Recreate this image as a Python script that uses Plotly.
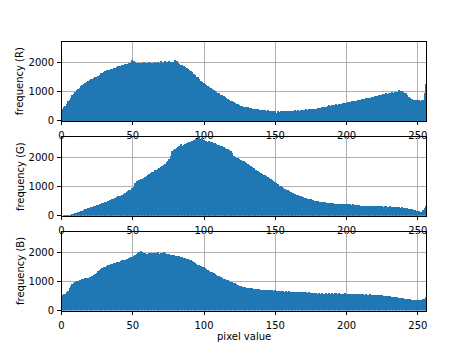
import plotly.graph_objects as go

bins = list(range(256))

red = [
    420, 470, 530, 600, 680, 720, 800, 880, 930, 990, 1060, 1100, 1150, 1190, 1230, 1270,
    1300, 1340, 1380, 1410, 1440, 1460, 1480, 1510, 1530, 1550, 1600, 1640, 1670, 1700, 1720, 1740,
    1760, 1770, 1790, 1800, 1820, 1840, 1850, 1880, 1890, 1910, 1920, 1940, 1950, 1970, 1980, 2000,
    2010, 2100, 2050, 2040, 2010, 2000, 1990, 2010, 2000, 2020, 1990, 2010, 2000, 2030, 2000, 2010,
    1990, 2020, 2000, 2030, 2010, 2050, 2000, 2020, 2060, 2040, 2030, 2070, 2020, 2040, 2030, 2090,
    2060, 2000, 1980, 1940, 1920, 1880, 1850, 1810, 1780, 1740, 1720, 1680, 1620, 1580, 1530, 1500,
    1440, 1390, 1350, 1300, 1270, 1230, 1200, 1180, 1150, 1120, 1080, 1040, 1000, 970, 950, 910,
    880, 850, 820, 790, 760, 720, 700, 680, 650, 620, 600, 580, 550, 530, 520, 500,
    490, 480, 470, 460, 440, 430, 420, 410, 400, 400, 390, 380, 390, 370, 380, 360,
    370, 360, 350, 360, 340, 330, 280, 330, 320, 340, 330, 330, 350, 340, 350, 360,
    340, 360, 350, 370, 360, 380, 350, 370, 390, 370, 380, 400, 380, 400, 410, 390,
    410, 430, 420, 440, 450, 460, 470, 490, 480, 500, 520, 540, 530, 550, 560, 540,
    570, 560, 580, 590, 580, 610, 620, 630, 650, 640, 660, 680, 690, 700, 690, 720,
    730, 740, 750, 760, 770, 780, 790, 800, 810, 830, 840, 860, 850, 870, 880, 900,
    910, 920, 940, 950, 930, 960, 970, 990, 980, 1000, 990, 1010, 1060, 1020, 1050, 1000,
    980, 950, 900, 830, 800, 760, 740, 720, 730, 710, 720, 700, 740, 720, 950, 1280,
]

green = [
    0, 5, 10, 20, 25, 35, 50, 65, 80, 100, 120, 135, 150, 170, 190, 210,
    230, 250, 265, 290, 310, 320, 340, 350, 370, 380, 400, 420, 440, 460, 480, 500,
    520, 540, 560, 580, 600, 630, 650, 680, 700, 690, 720, 760, 790, 820, 850, 880,
    910, 950, 990, 1150, 1190, 1210, 1240, 1270, 1290, 1320, 1350, 1380, 1410, 1440, 1470, 1500,
    1530, 1570, 1600, 1620, 1650, 1690, 1720, 1760, 1800, 1850, 1900, 1980, 2050, 2250, 2280, 2300,
    2350, 2380, 2400, 2470, 2420, 2450, 2480, 2500, 2520, 2560, 2540, 2580, 2600, 2620, 2640, 2660,
    2720, 2640, 2680, 2600, 2580, 2590, 2560, 2570, 2540, 2560, 2520, 2500, 2490, 2450, 2460, 2420,
    2410, 2380, 2350, 2320, 2300, 2280, 2250, 2180, 2050, 2030, 2000, 1990, 1960, 1940, 1910, 1880,
    1850, 1820, 1790, 1760, 1720, 1680, 1640, 1600, 1580, 1550, 1510, 1480, 1450, 1420, 1400, 1370,
    1330, 1300, 1270, 1240, 1200, 1170, 1130, 1090, 1050, 1020, 990, 950, 920, 900, 880, 850,
    830, 810, 790, 770, 740, 720, 700, 680, 660, 650, 630, 610, 600, 590, 570, 560,
    550, 530, 520, 510, 500, 490, 480, 480, 470, 460, 460, 450, 440, 440, 440, 430,
    430, 420, 430, 420, 420, 410, 420, 410, 420, 400, 410, 390, 400, 390, 380, 370,
    370, 360, 360, 350, 360, 350, 340, 350, 340, 340, 330, 340, 330, 340, 320, 330,
    330, 320, 330, 330, 310, 320, 330, 310, 320, 300, 310, 300, 310, 290, 300, 290,
    280, 270, 260, 250, 240, 230, 220, 200, 190, 170, 160, 150, 140, 220, 280, 330,
]

blue = [
    560, 570, 600, 640, 700, 780, 850, 920, 960, 990, 1020, 1040, 1060, 1080, 1100, 1120,
    1130, 1140, 1150, 1170, 1180, 1200, 1230, 1270, 1320, 1370, 1410, 1440, 1470, 1500, 1520, 1550,
    1570, 1590, 1610, 1630, 1650, 1660, 1680, 1700, 1700, 1720, 1740, 1750, 1770, 1780, 1800, 1820,
    1850, 1870, 1890, 1920, 1960, 2000, 2030, 2080, 2030, 2000, 1990, 1980, 1970, 2000, 1990, 2000,
    2010, 1990, 2000, 2020, 1980, 2010, 2000, 2030, 1990, 1970, 1960, 1950, 1940, 1930, 1920, 1910,
    1900, 1900, 1880, 1870, 1850, 1830, 1810, 1800, 1780, 1760, 1740, 1710, 1690, 1660, 1630, 1600,
    1580, 1550, 1530, 1500, 1480, 1450, 1420, 1390, 1360, 1330, 1300, 1280, 1250, 1220, 1200, 1180,
    1150, 1120, 1100, 1080, 1060, 1040, 1010, 990, 980, 950, 920, 900, 870, 860, 840, 830,
    820, 810, 800, 790, 780, 780, 770, 760, 760, 750, 750, 740, 740, 730, 740, 730,
    720, 730, 710, 720, 700, 710, 690, 700, 690, 680, 690, 680, 670, 680, 670, 680,
    670, 660, 670, 650, 660, 650, 660, 640, 650, 640, 640, 650, 630, 640, 620, 630,
    620, 610, 620, 600, 610, 600, 610, 590, 600, 610, 600, 620, 600, 610, 600, 620,
    610, 600, 610, 600, 590, 600, 610, 590, 600, 590, 580, 590, 600, 580, 570, 590,
    580, 570, 580, 570, 560, 570, 560, 550, 570, 560, 550, 560, 540, 550, 560, 540,
    540, 530, 520, 530, 510, 520, 510, 500, 490, 500, 480, 470, 460, 450, 440, 440,
    430, 420, 410, 400, 400, 390, 380, 380, 370, 380, 380, 370, 390, 400, 420, 490,
]

channels = [("R", red), ("G", green), ("B", blue)]
x_ticks = [0, 50, 100, 150, 200, 250]
y_ticks = [0, 1000, 2000]

W, H = 474, 355
x_dom = [59 / W, 427 / W]
y_doms = [[0.6535, 0.88], [0.3817, 0.6082], [0.11, 0.3365]]

fig = go.Figure()
font = dict(family="DejaVu Sans", size=10, color="black")

for i, (name, vals) in enumerate(channels):
    k = "" if i == 0 else str(i + 1)
    fig.add_trace(go.Bar(
        x=[b + 0.5 for b in bins], y=vals, width=1,
        marker=dict(color="#1f77b4", line=dict(width=0)),
        xaxis="x" + k, yaxis="y" + k, showlegend=False,
    ))
    axcommon = dict(
        showline=True, linecolor="black", linewidth=1, mirror=True,
        ticks="outside", ticklen=3.5, tickcolor="black",
        showgrid=True, gridcolor="#b0b0b0", gridwidth=0.8,
        zeroline=False, layer="above traces", tickfont=font,
    )
    fig.update_layout(**{
        "xaxis" + k: dict(domain=x_dom, anchor="y" + k, range=[0, 256],
                          tickvals=x_ticks, ticklabelstandoff=2, **axcommon),
        "yaxis" + k: dict(domain=y_doms[i], anchor="x" + k, range=[0, 2720],
                          tickvals=y_ticks, ticklabelstandoff=1, **axcommon),
    })
    fig.add_annotation(
        text=f"frequency ({name})", textangle=-90, showarrow=False,
        xref="paper", yref="paper", x=17 / W, xanchor="center",
        y=sum(y_doms[i]) / 2, yanchor="middle", font=font,
    )

fig.add_annotation(
    text="pixel value", showarrow=False, xref="paper", yref="paper",
    x=sum(x_dom) / 2, y=1 - 342 / H, xanchor="center", yanchor="middle", font=font,
)

fig.update_layout(
    width=W, height=H, margin=dict(l=0, r=0, t=0, b=0),
    paper_bgcolor="white", plot_bgcolor="white", bargap=0,
)

fig.write_html("out.html")
